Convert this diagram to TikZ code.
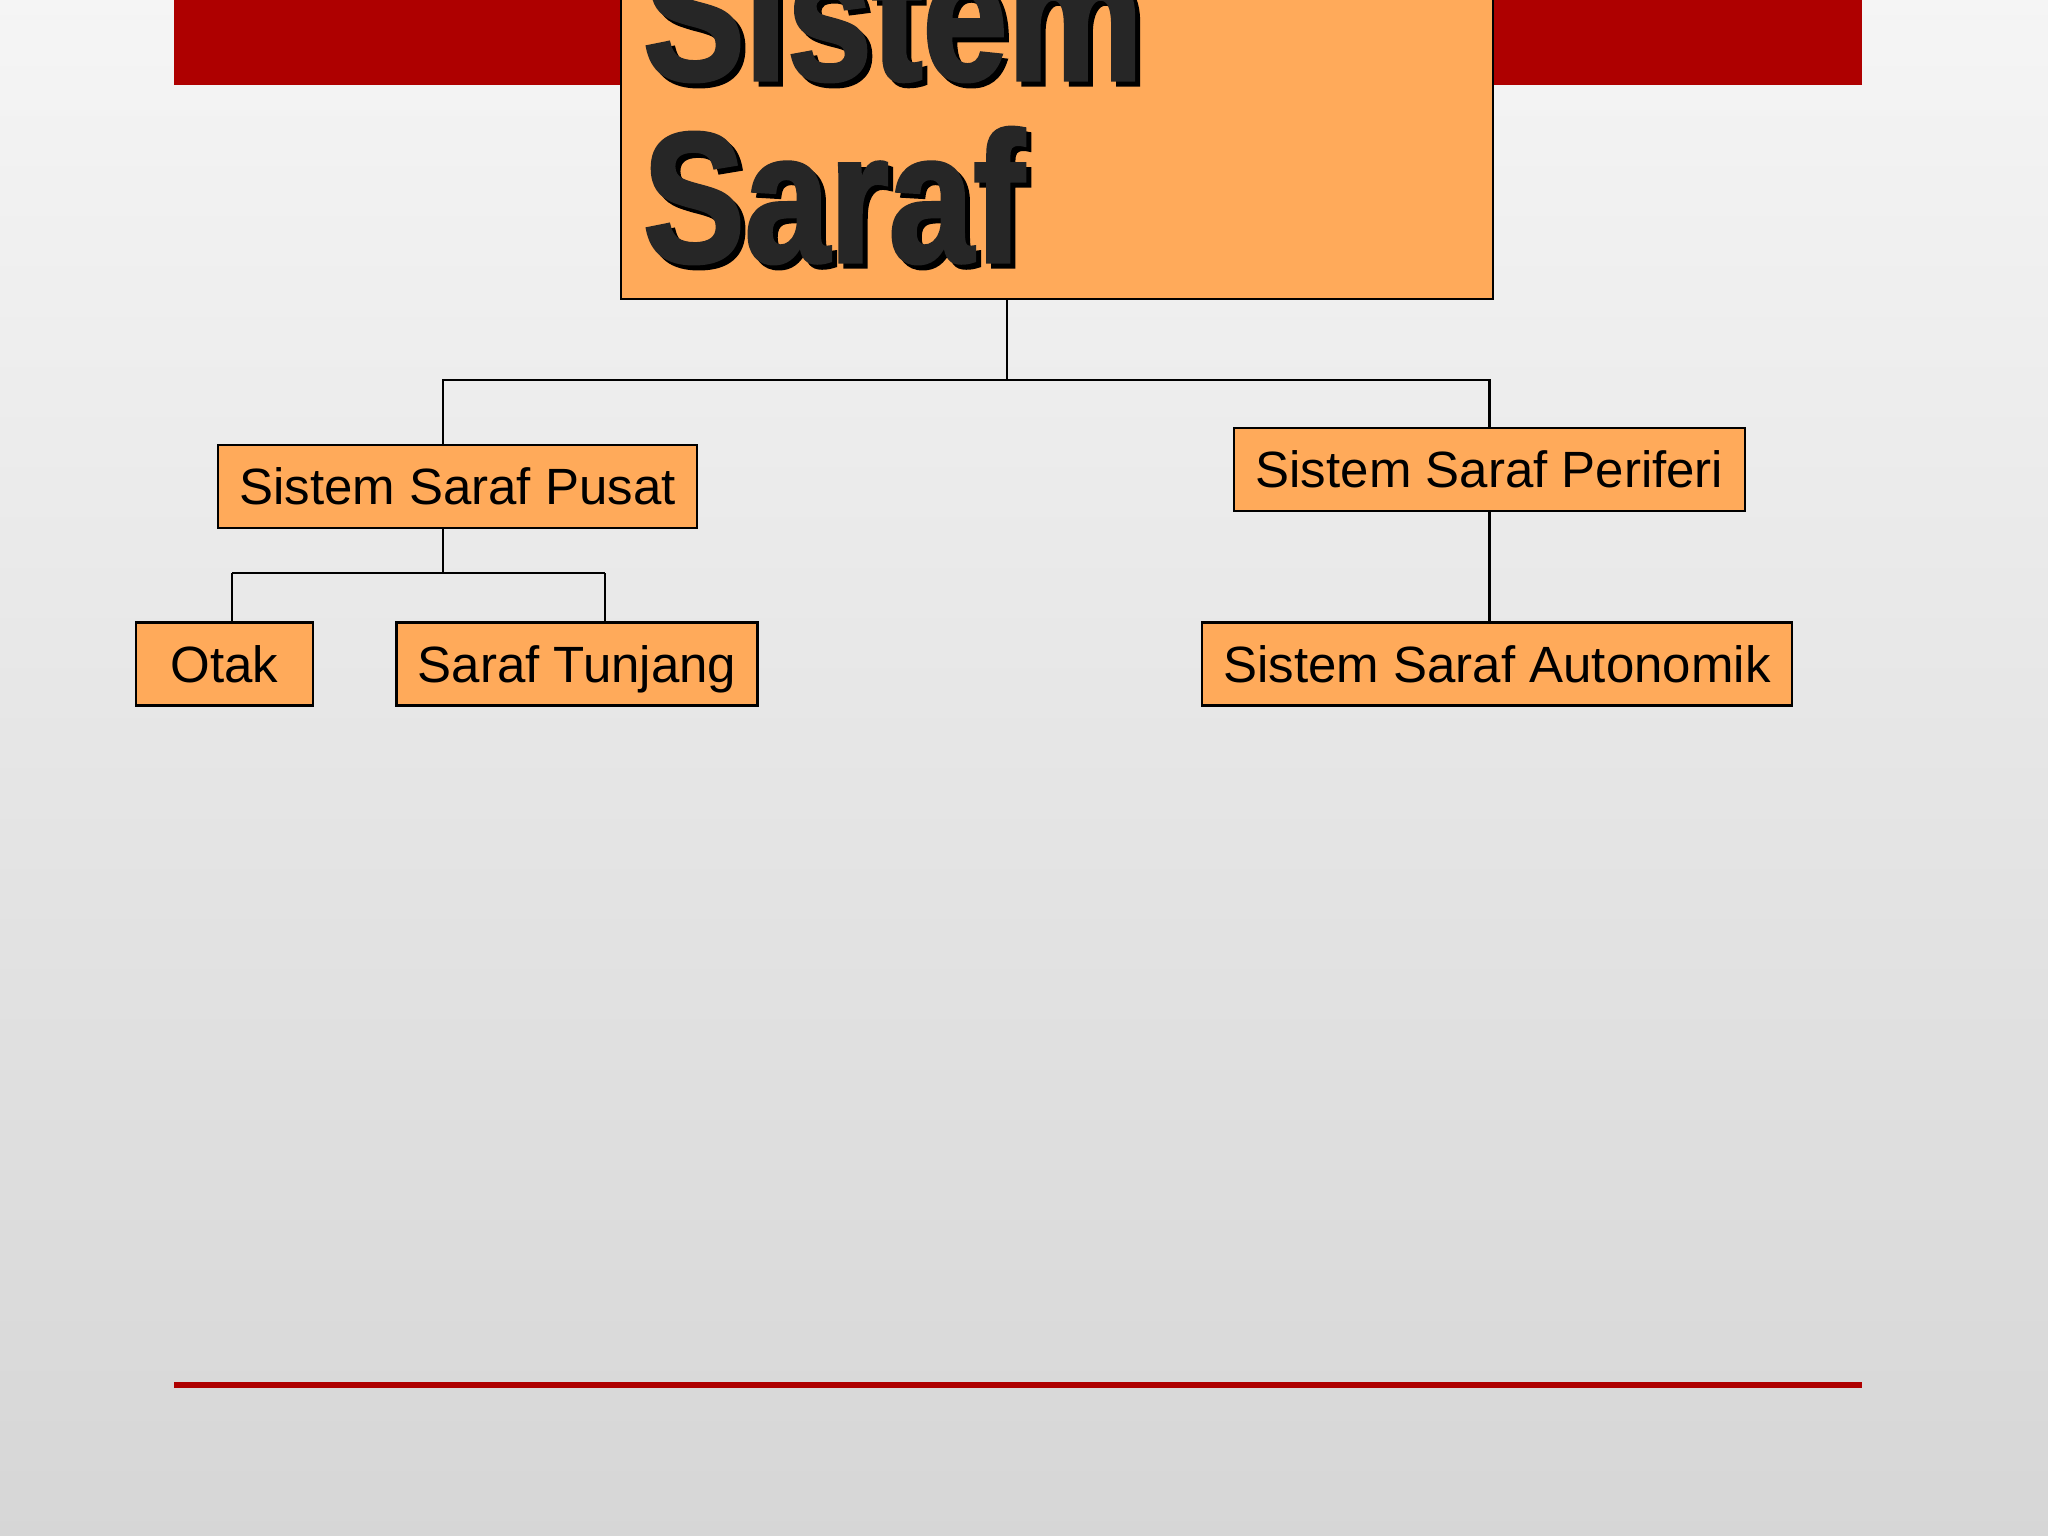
\documentclass[tikz,border=0pt]{standalone}
\usepackage{fontspec}
\setmainfont{Liberation Sans}
\newfontfamily\titlefont{Liberation Sans Bold}[FakeStretch=0.82,FakeBold=1.8]
\definecolor{slidered}{HTML}{AE0000}
\definecolor{boxorange}{HTML}{FFAA5A}
\definecolor{titlegray}{HTML}{262626}
\tikzset{every picture/.style={line width=0.75pt}}
\begin{document}
\begin{tikzpicture}[x=0.35288pt,y=0.35288pt,yscale=-1,xscale=1,
	orgbox/.style={draw, fill=boxorange, font=\fontsize{18}{21}\selectfont, inner xsep=7.5pt, inner ysep=0pt, minimum height=29.3pt, text height=13pt, text depth=0pt},
	titleword/.style={anchor=base west, inner sep=0pt, font=\titlefont\fontsize{65.6}{64}\selectfont}]
	%Background
	\shade[top color=gray!8, bottom color=gray!32] (0,0) rectangle (2048,1536);
	\useasboundingbox (0,0) rectangle (2048,1536);

	%Red bar and bottom rule
	\fill[slidered] (174,0) rectangle (1862,85);
	\draw[slidered, line width=2.1pt] (174,1385) -- (1862,1385);

	%Title box
	\node[draw, fill=boxorange, anchor=south west, inner sep=0pt, minimum width=307.7pt, minimum height=123.5pt] (title) at (620,300) {};
	% Text Node
	\node[titleword, black] (shadowa) at (647,85) {Sistem};
	\node[titleword, black] (shadowb) at (647,267) {Saraf};
	\node[titleword, titlegray] (titlea) at (642,80) {Sistem};
	\node[titleword, titlegray] (titleb) at (642,262) {Saraf};

	%Org boxes
	\node[orgbox] (pusat) at (457.5,486.5) {Sistem Saraf Pusat};
	\node[orgbox] (periferi) at (1489.5,469.5) {Sistem Saraf Periferi};
	\node[orgbox, minimum width=62.5pt] (otak) at (224.5,664) {Otak};
	\node[orgbox] (tunjang) at (577,664) {Saraf Tunjang};
	\node[orgbox] (autonomik) at (1497,664) {Sistem Saraf Autonomik};

	%Connectors
	\coordinate (ja) at (1007,380);
	\coordinate (jb) at (443,573);
	\coordinate (jc) at (232,573);
	\coordinate (jd) at (605,573);
	\draw (title.south -| ja) -- (ja) -| (pusat.north -| jb);
	\draw (ja) -| (periferi.north);
	\draw (pusat.south -| jb) -- (jb);
	\draw (jc) -- (jd);
	\draw (jc) -- (otak.north -| jc);
	\draw (jd) -- (tunjang.north -| jd);
	\draw (periferi.south) -- (autonomik.north -| periferi.south);

\end{tikzpicture}
\end{document}
